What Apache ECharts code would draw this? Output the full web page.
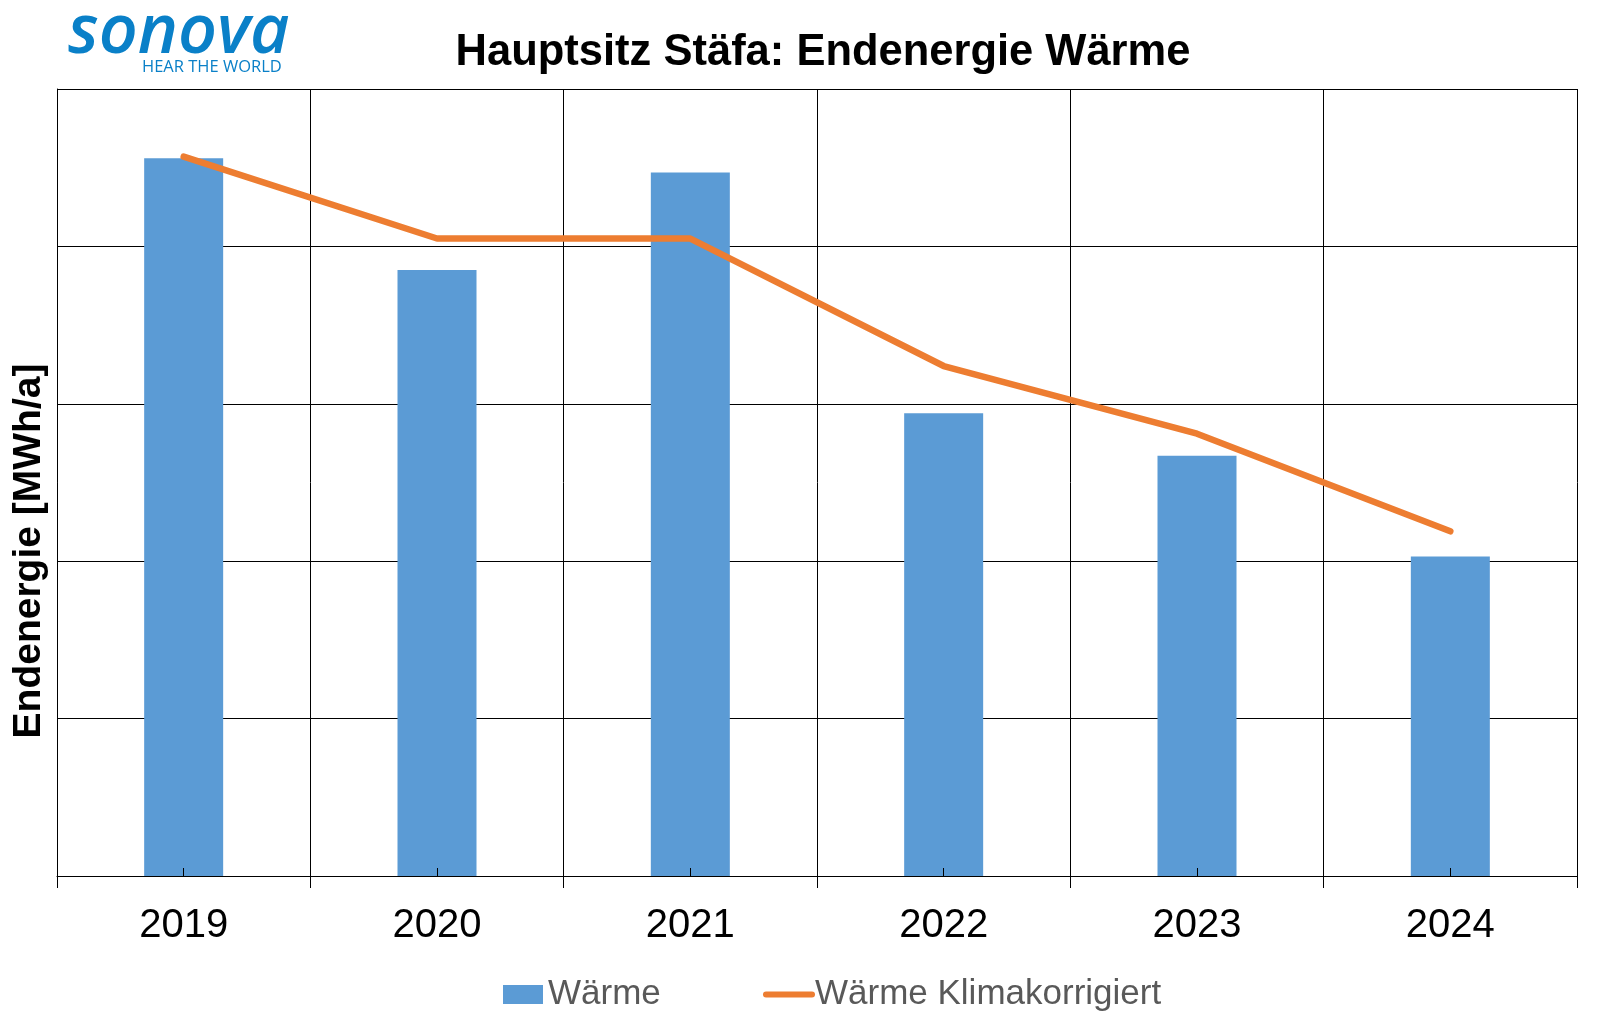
<!DOCTYPE html>
<html>
<head>
<meta charset="utf-8">
<title>Hauptsitz Stäfa: Endenergie Wärme</title>
<script src="https://cdn.jsdelivr.net/npm/echarts@6/dist/echarts.min.js"></script>
<style>
    html, body { margin: 0; padding: 0; background: #fff; }
    #chart { width: 1600px; height: 1034px; }
</style>
</head>
<body>
<div id="chart"></div>
<script>
// Data (y axis has no labels, units estimated)
const years = ['2019', '2020', '2021', '2022', '2023', '2024'];
const waerme = [4560, 3850, 4470, 2940, 2670, 2030];
const waermeKlima = [4570, 4050, 4050, 3240, 2810, 2190];
const yMax = 5000;
const yStep = 1000;

document.addEventListener('DOMContentLoaded', function() {
    const chart = echarts.init(document.getElementById('chart'));
    const font = 'Liberation Sans, Arial, sans-serif';

    const option = {
        animation: false,
        backgroundColor: '#fff',
        title: {
            text: 'Hauptsitz Stäfa: Endenergie Wärme',
            left: 818,
            top: 26,
            textAlign: 'center',
            textStyle: {
                fontFamily: font,
                fontWeight: 'bold',
                fontSize: 43.5,
                color: '#000'
            }
        },
        graphic: [
            {
                type: 'text',
                left: 68,
                top: 0,
                style: {
                    text: 'sonova',
                    font: 'italic 600 68px "Open Sans", sans-serif',
                    fill: '#0a80c8'
                }
            },
            {
                type: 'text',
                left: 142,
                top: 59,
                style: {
                    text: 'HEAR THE WORLD',
                    font: '16.5px "Open Sans", sans-serif',
                    fill: '#0a80c8'
                }
            },
            {
                // y axis title, placed as in the reference (lower than axis middle)
                type: 'text',
                x: 29,
                y: 551,
                rotation: Math.PI / 2,
                style: {
                    text: 'Endenergie [MWh/a]',
                    font: 'bold 39px ' + font,
                    fill: '#000',
                    align: 'center',
                    verticalAlign: 'middle'
                }
            }
        ],
        legend: [
            {
                data: [{ name: 'Wärme', icon: 'rect' }],
                left: 498,
                top: 972,
                itemWidth: 40,
                itemHeight: 19,
                itemGap: 0,
                textStyle: { fontFamily: font, fontSize: 35, color: '#595959' }
            },
            {
                data: ['Wärme Klimakorrigiert'],
                left: 758,
                top: 972,
                itemWidth: 46,
                itemHeight: 19,
                itemGap: 0,
                itemStyle: { opacity: 0 },
                lineStyle: { width: 6, cap: 'round' },
                textStyle: { fontFamily: font, fontSize: 35, color: '#595959', padding: [0, 0, 0, -2] }
            }
        ],
        grid: {
            left: 57,
            right: 23,
            top: 89,
            bottom: 158,
            outerBoundsMode: 'none',
            containLabel: false
        },
        xAxis: [
            {
                type: 'category',
                data: years,
                boundaryGap: true,
                axisLine: { show: true, lineStyle: { color: '#000', width: 1 } },
                axisTick: { show: true, inside: false, length: 12, lineStyle: { color: '#000' } },
                axisLabel: {
                    margin: 30,
                    fontFamily: font,
                    fontSize: 40,
                    color: '#000'
                },
                splitLine: { show: true, lineStyle: { color: '#000', width: 1 } }
            },
            {
                // small centred ticks pointing up, as in the reference
                type: 'category',
                data: years,
                position: 'bottom',
                boundaryGap: true,
                z: 5,
                axisLine: { show: false },
                axisTick: { show: true, inside: true, alignWithLabel: true, length: 8, lineStyle: { color: '#000' } },
                axisLabel: { show: false },
                splitLine: { show: false }
            }
        ],
        yAxis: {
            type: 'value',
            min: 0,
            max: yMax,
            interval: yStep,
            axisLine: { show: true, lineStyle: { color: '#000', width: 1 } },
            axisTick: { show: false },
            axisLabel: { show: false },
            splitLine: { show: true, lineStyle: { color: '#000', width: 1 } }
        },
        series: [
            {
                name: 'Wärme',
                type: 'bar',
                data: waerme,
                barWidth: 79,
                itemStyle: { color: '#5b9bd5' },
                z: 2
            },
            {
                name: 'Wärme Klimakorrigiert',
                type: 'line',
                data: waermeKlima,
                symbol: 'none',
                lineStyle: { color: '#ed7d31', width: 6.5, cap: 'round' },
                itemStyle: { color: '#ed7d31' },
                z: 3
            }
        ]
    };

    chart.setOption(option);
});
</script>
</body>
</html>
